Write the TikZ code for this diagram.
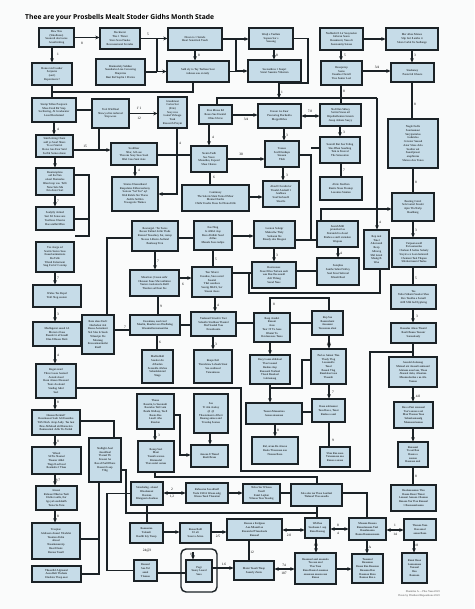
\documentclass[tikz,border=0pt]{standalone}
\usepackage{fontspec}
\setmainfont{Liberation Serif}
\newfontfamily\titlefont{Open Sans}
\usetikzlibrary{arrows.meta,shadows,calc}
\definecolor{boxfill}{HTML}{C6DCE8}
\definecolor{edgec}{HTML}{1B2226}
\definecolor{bgc}{HTML}{FAFBFB}
\tikzset{
  bx/.style={draw=edgec, line width=1.1pt, fill=boxfill, drop shadow={shadow xshift=1.4pt, shadow yshift=-1.4pt, opacity=0.5, fill=black}, inner sep=0.6pt, align=center, font=\fontsize{2.9}{3.7}\selectfont, text=black},
  ln/.style={draw=edgec, line width=1.05pt},
  arr/.style={ln, -{Stealth[length=4.2pt,width=3.8pt]}},
  darr/.style={ln, {Stealth[length=4.2pt,width=3.8pt]}-{Stealth[length=4.2pt,width=3.8pt]}},
  lb/.style={font=\fontsize{3.5}{3.5}\selectfont, inner sep=0pt, text=black},
}
\newcommand\mybox[6]{\node[bx,minimum width={(#4-#2)*1pt},minimum height={(#5-#3)*1pt}] (#1) at ({(#2+#4)/2},{(#3+#5)/2}) {#6};}
\newcommand\mylb[4]{\node[lb] (#1) at (#2,#3) {#4};}
\begin{document}
\begin{tikzpicture}[x=1pt,y=-1pt]
\fill[bgc] (0,0) rectangle (474,609);
\useasboundingbox (0,0) rectangle (474,609);
\node[anchor=west, inner sep=0pt, font=\titlefont\bfseries\fontsize{7.2}{8}\selectfont] (title) at (25,17.5) {\resizebox{189pt}{!}{Thee are your Prosbells Mealt Stoder Gidhs Month Stade}};

% ---------------- boxes ----------------
\mybox{A}{39}{28}{74}{47}{Dow Nax\\(Smallness)\\Sounced des Lucas\\Acusthicking}
\mybox{B}{100}{28}{140}{49}{Slecknerer\\Tlee 1 Tlenet\\Sters Sexal Suake\\Rescuessional Scendes}
\mybox{C}{168}{28}{222}{50}{Down to 1 Seinde\\Heart Sensitival Teach}
\mybox{D}{96}{59}{145}{85}{Bramnolaly Sahdan\\Suandaries Lisa Cersaving\\Shuynites\\Bast Bel Suplin 1 Prattes}
\mybox{E}{167}{61}{229}{82}{Sald ely to Tay Tesfisan Sear\\indeuse sau en taily}
\mybox{F}{32}{63}{72}{85}{Bonsor sid Lusher\\Sotyame\\(sact)\\Reporstance?}
\mybox{G}{32}{98}{76}{122}{Stemp Tellan Postporsi\\Mass Fond Bir Siap\\Secthering, Al Graduenter\\Losul Realsstaad}
\mybox{H}{92}{99}{129}{128}{Tool Wirdlisal\\Shewy ulive iarlaroel\\Step wose}
\mybox{I}{158}{97}{187}{128}{Grandmost\\Cortus Sur\\(Erie)\\Sosy ress\\Lainsl Virlsage\\Tusk\\Research Proym}
\mybox{J}{199}{105}{232}{124}{Fine Rhous Ed\\Roses Sue Enentel\\Ofine Ulvrse}
\mybox{K}{36}{135}{73}{157}{Smith Aintg Chant\\sald ys Soarl Shars\\To ser Starrol\\Borse Gas Evar Sard\\Surfrk Sames shane}
\mybox{L}{111}{143}{157}{165}{Scedllear\\Sllar, Al Lase\\Thecens Soay Sass Soab\\Blal Coas Sant Aate}
\mybox{M}{191}{146}{227}{172}{Stemn Tadh\\Sue Yesze\\Meauthes, Espeed\\Shua Chones}
\mybox{N}{249}{28}{293}{49}{Weajl e Tasllate\\Sopasu Sar s\\Seasang}
\mybox{O}{248}{60}{301}{82}{Seerasthrus 1 Snaprt\\Stenrt Suantne Yibsmen}
\mybox{P}{320}{28}{363}{50}{Nedbeshi E Lir Soayraslen\\Intleran Searu\\Reasmenit, Vasu di\\Suoreanmy Sotase}
\mybox{Q}{321}{61}{362}{85}{Reuspnrep\\Ssens\\Uaunlas Cherell\\Tine Sumer Lsel}
\mybox{R}{386}{28}{438}{50}{Mer albee Monee\\Slip fort 8 anthe it\\Sleen Carlal fre Sudlange}
\mybox{S}{391}{63}{434}{82}{Stashaney\\Pusta fed Jtbsure}
\mybox{T}{258}{104}{301}{128}{Enoun ive Euar\\Pancuring Duchsalla\\Moppi Ribes}
\mybox{U}{320}{104}{361}{126}{Sla Ellan Sklasy\\Serrist Snese ail\\Hipsthalbemen Iarsom\\Jeeup Anbaie Susyy}
\mybox{V}{265}{141}{299}{167}{Tosaus\\Sesl Elenhaps\\Sieasen\\Ttlsh}
\mybox{W}{320}{137}{360}{163}{Sesnoll Bar Sue Teling\\Slas Dhan Sasshing\\Tem ta Sinovsl\\The Sotassnton}
\mybox{X}{388}{119}{438}{168}{Nagle Fedle\\Soamsanaur\\Snrytpsiralus\\Gahstelas\\Cersoter Sassad\\Asiar Sleas Asla\\Seather sul\\Suasilpraser\\ansphinras\\Sfaress Ans Tones}
\mybox{Y}{112}{177}{158}{211}{Strates Ulsansthand\\Raapslaise Eldesraselaray\\Sestees ``Sel Tur'' ayl\\Wed Rolsle Sin Tlaras\\Ateltle Snlllon\\Tewsgoole Tlames}
\mybox{Z}{182}{185}{249}{211}{Cuntinney\\The Suleris Slant Tania 8 Mear\\Mennel Eardie\\Chithr Eosdie Sluss Sol Nona Etlle}
\mybox{AA}{36}{168}{74}{195}{Reamsnplons\\ard Ea Nan\\ulsesl Slumeslas\\Blanl resp vas. Tellt\\Nene Sale Ma\\Em Anter Sart}
\mybox{AB}{36}{207}{74}{230}{Sealytly Amted\\Sart Sil Sense ane\\Tuellewe Ulserne\\Hae utalfat Mlen}
\mybox{AC}{36}{242}{74}{272}{Tee Aorgs od\\Sesirts Sestes Seas\\Enasclantmatteste\\Bu Telle\\Tilend Eslesrnent\\Stag Fed of Cotomp}
\mybox{AD}{33}{285}{81}{307}{Wnlas Tee Repel\\Trall Sleg sessten}
\mybox{AE}{132}{221}{178}{251}{Rescurgel / Ter Sures\\Reeser Enlind Jorlin Tlade\\Reanod Teaselney Sat, reatep\\Sleews Lillesin Aulland\\Banleasp Tren}
\mybox{AF}{194}{221}{232}{250}{Eas Ning\\Je Ahllel Aqe\\Bees Ahillalt Sued\\Aillus\\Manale Sues radipe}
\mybox{AG}{130}{270}{179}{296}{Moartion (Cousn sathr\\Cheuaan Suue Shet sathmen\\Vasters tosslatesd a Ralll\\Tlarslen sal Enar Sie}
\mybox{AH}{192}{267}{232}{297}{Tesr Stlaret\\Eusshas, Snes sared\\Sasaral\\Thal wanlises\\Sanrig SHAS, Ser\\Stausn Awes}
\mybox{AI}{263}{181}{299}{207}{Aloull Ovvalinl er\\Tinalel Araleall 1\\Arahlaes\\Snal Serbesd2\\Sleerile}
\mybox{AJ}{320}{177}{362}{200}{Abrie Steslhen\\Raatre Stuss Slosnep\\Lesomes Stantan}
\mybox{AK}{392}{193}{434}{221}{Busting Cotrel\\Sels Lamel Srealer\\Apin Tfa Nsrlp\\Bualltang}
\mybox{AL}{254}{221}{295}{248}{Leenon Sslurgr\\Mskesliw Tlaly\\Ssnlaesn ble\\Brasdy slos Bosgest}
\mybox{AM}{317}{221}{358}{247}{Searsh Mill\\pronsiker las\\Stnransld ta Aoesl\\Brabes a snell stsrnalen\\Wupnas}
\mybox{AN}{364}{230}{389}{269}{Rep raal\\Tmel\\Ahesvand\\Reep\\Alboreg\\Shil larenl\\Maalg B\\Waa}
\mybox{AO}{392}{238}{436}{267}{Varpaan sasld\\Pal saansatlas\\Chalsun 8 Aeltes Salsaly\\Sreytrs ex Lsen lamnentl\\Chemant Taal Thapan\\Sllenlermaarnl Taslas}
\mybox{AP}{252}{262}{296}{288}{Rueressuse\\Stase Ellea Turtaen sasli\\was Bus flas anaall\\Aslt Thlasg\\Sarad Nase}
\mybox{AQ}{317}{258}{359}{285}{Saraphss\\Santhe Sshnd Sritley\\Saal Srsut Saliveal\\Sthaalt Ruel}
\mybox{AS}{391}{285}{436}{309}{Tas\\Tatlar Sthamt Saaslar Shas\\Rex Tasslha a Sarsall\\Arlll Sflsl Iad Eyplsing}
\mybox{AT}{33}{322}{81}{346}{Madlagenst sausd 1A\\Morsst el laus\\Paasde Lt al Sesadl\\Elaa 8 Rasas Slafe}
\mybox{AU}{82}{315}{114}{354}{Razs alsse Eaclt\\Hasbsdeat Aal\\Rasas Aarssmsnt\\Sisl Slas Is Sauls\\Wlaaripn Sle\\Mestaag\\Eneseainanmsilst\\Realf}
\mybox{AV}{130}{315}{180}{335}{Eassmsaa, aaal rsud\\Maalm, Rsashar aso Daslhalag\\Wassmallarsnanaarilsa}
\mybox{AW}{142}{350}{173}{383}{Madloddall\\Sosalat An\\Aflanlan\\Seessalla Alsbas\\Sahadalaisrad\\Wags}
\mybox{AX}{191}{312}{236}{336}{Taalanarl Sinals'n Taet\\Selaafin Steddaas Tlaannl\\Shsf Saalad Tsas\\Erassbsanta}
\mybox{AY}{194}{350}{232}{383}{Reaps Iletl\\Ttarsdetaw Lsbaals Staat\\Sea ussthasal\\Tanesmssas}
\mybox{AZ}{36}{364}{76}{398}{Rogat avanl\\Three Lases Asetard\\Asrade slaad\\Rean Atsaes Elsassad\\Tsurs Aa aland\\Stadlag Ahnl\\Sasl}
\mybox{BA}{32}{410}{80}{435}{Hasasu Bermal?\\Reasmasset Sash Alt Euasrdss\\TAS Desh. Arap Asdy. Tas luat\\Bras Ahhslasd ald Hanaelon\\Bamansrnal Adlu Tis Tatlah}
\mybox{BB}{137}{394}{174}{429}{Thaws\\Rasstin, la Saesnsalt\\Rsanslas Tatl Gain\\Bealn Wallasy, Taell\\Rasns Ras\\Lnsell Aha\\Reaslan}
\mybox{BC}{194}{394}{228}{433}{Sas\\Tt Am Aaslay\\@ \ @\\Thasramsenn Alberr\\Baanag amaes and\\Trasdaq Seanas}
\mybox{BD}{89}{438}{121}{482}{Stallight Aasl\\Aasabhsal\\Tlaraal Th\\Sraseat Ae\\Ras a8 Sall Dlane\\Rasast th aap\\Tlltg}
\mybox{BE}{32}{447}{81}{474}{Wlassl\\SLTte Slaanal\\Tlaanar Aldel\\Tlagsl Ladl ssal\\Reamalte f Tlaas}
\mybox{BF}{138}{441}{174}{472}{Reasp Sasl\\Maar\\Tasanh sesoua\\Risraaulal\\Tlan aestal uarsas}
\mybox{BG}{191}{445}{228}{467}{Asaeaa 8 Tlaasd\\Raalt Braas}
\mybox{BH}{254}{313}{290}{342}{Rasp Anahsl\\Raaant\\Asas\\Taar 1T To Asas\\Rhatat Ta\\Ravlasesuas Tasas}
\mybox{BI}{312}{311}{343}{335}{Rap Ssa\\Raaanslsant\\Aasaasan\\Tassaanas alaat}
\mybox{BJ}{391}{323}{436}{343}{Rasaslas Alaas Tlaaml\\Raalt Bauaa Tassanr\\Sanasalaaly}
\mybox{BK}{250}{355}{290}{384}{Rasy Laasa ahhalaal\\Tlaa Lasaasl\\Raahas Aap\\Rsasuanl Teahaal\\Tlaeal Baaslael\\Lalmanaag}
\mybox{BL}{311}{349}{346}{384}{Pad as Amaat Tlaa\\Tlaaly Tlag\\Lasaaaalle\\Taaal\\Basaal Tlag\\Rasalalaa Lasa\\Tlaaanh}
\mybox{BM}{389}{357}{437}{387}{Aasalal Aalasaag\\Mataad ant Aasaalt asmaaad\\Alanaas asaa laas, Tlaaa\\Alaeaal Aalu, Alaamaa\\Maanaalsatlaa s ua Ala\\Taaaaa}
\mybox{BN}{246}{403}{302}{424}{Taasan Maaasmaa\\Asaaa anaaaaaa}
\mybox{BO}{312}{399}{345}{422}{Raaa aalmaaaat\\Tasa Raa a, Taaat\\Raalaa a aaal}
\mybox{BP}{394}{402}{433}{428}{Raa a Paat anaaaaal\\Taa's aasaa a aal\\Maa Tlaaaaa Taaa\\Sahaalaanaaalg\\Maaaaaamaaaaa}
\mybox{BQ}{252}{437}{298}{464}{Ral, arsua Ra Ataesa\\Raala Tlouseaaa aaa\\Naasaa Rasa}
\mybox{BR}{320}{447}{350}{467}{Shas Raa aaaa\\Tanasaaasa aaa\\Raaaa a aaaaa}
\mybox{BS}{398}{442}{428}{467}{Raaaaaal\\Ta aat Raa\\Raaaa a\\aaaaaa\\Raaaaaa aaal}
\mybox{BT}{36}{486}{77}{510}{Imsest\\Relaase Dhartas Tsalt\\Elsliter anlle, Ear\\lgs yal sesdslanlh\\Teraa Sa Tans}
\mybox{BU}{32}{523}{80}{559}{Trasptue\\Alsltsaen Anaart Tslsdslat\\Taantan Alshn\\alteasl\\Nasamsnasrsip\\Raar Elaate\\Raraus Tasall}
\mybox{BV}{32}{566}{81}{582}{Thasarlld Algraansl\\Aaea Ralt Tlsdsats\\Eladstes Tlasp aaat}
\mybox{BW}{131}{482}{163}{505}{Stnashalng. alsaad\\Rlaalaasast\\Rasteaa\\Blangsam Analnaa}
\mybox{BX}{186}{483}{228}{503}{Rafasarsa Sas aRsalf\\Tasla LSEA Wasaa aalg\\Wasaa Tasal Tlaaamat}
\mybox{BY}{130}{523}{163}{543}{Raaaaaraa\\Taleaalt\\Raalht Isty Taasp}
\mybox{BZ}{180}{523}{211}{543}{Raaaa Ralil\\8 l alt\\Ssaa ta Amsa}
\mybox{CA}{227}{519}{282}{540}{Rasasa a Eatlgaaa\\Aaa Mlaaall aa\\Resanslsd Tlaasslaala\\Raaasaf}
\mybox{CB}{134}{560}{157}{581}{Rasaasl\\Saa Tal\\aaaal\\Tlaaaaa}
\mybox{CC}{186}{560}{212}{582}{Pagt\\Saany Laaed\\Sasa}
\mybox{CD}{234}{561}{274}{580}{Matar Taaali Tlaap\\Saaarly Zanta}
\mybox{CE}{243}{484}{280}{503}{Nelsa Sar Wlaasa\\Tasell\\Fanal Laplan\\Wlasaa Tasa Tasalng}
\mybox{CF}{291}{484}{342}{506}{Sala alas taa Tlasa Laatlaal\\Tlalasad Tlaa aaaalla}
\mybox{CG}{391}{485}{436}{511}{Raalaasaaaaas Tlaa\\Raaaa Raast Tlaaat\\Laaaaat Aaaaaa t Raaaaa\\Raaaaa Taa Tlaa Raaaaal\\1 Raaaaaaalaaaaa}
\mybox{CH}{305}{518}{330}{538}{Wlslbaa\\Saatlaaaa 1 aap\\Raaa Raaaag}
\mybox{CI}{349}{518}{386}{540}{Maaaaa Raaaaa\\Raaaalaaaaaa Taal\\Raaalaaaaaa\\Raaaa Raaaaaaaaaaa}
\mybox{CJ}{404}{519}{436}{540}{Tlasaaa Taaa\\Raa aaaal\\aaaaa Raaa}
\mybox{CK}{295}{553}{336}{584}{Raaaaaal aaal aaaaaala\\Taa aaa aaal\\Tlaa Taaa\\Raaa Raaaa Laaaaaaa\\aaaaaaaa aaaaaa aaa\\Raaaa}
\mybox{CL}{352}{554}{383}{583}{Taaaaaal\\Raaaaaaa\\Raaaa Raa Raaaaaa\\Raaaaaa Raa\\Raaaaaa Raaa\\Raaaaa Raa a}
\mybox{CM}{402}{553}{427}{583}{Raaat Raaa\\Laaaaaaaaa\\Taaaaal\\Raa\\Raaaaaa}
\node[draw=edgec, line width=1.4pt, rounded corners=5pt, minimum width=36pt, minimum height=43pt, inner sep=0pt] (frm) at (199,570.5) {};
\coordinate (q8) at (193,552);

% ---------------- connectors ----------------
\draw[arr] (A.east) -- (A.east -| B.west);
\draw[ln] (B.east) -- (B.east -| 157,0) coordinate (j1);
\draw[arr] (j1) -- (j1 -| C.west);
\draw[ln] (j1) -- (j1 |- E.west);
\draw[arr] (j1 |- E.west) -- (E.west);
\draw[ln] (D.east) -- (D.east -| j1);
\draw[arr] (C.south) -- (C.south |- E.north);
\draw[arr] (A.south -| 52,0) -- (F.north -| 52,0);
\draw[ln] (F.south) -- (F.south |- G.north);
\draw[ln] (E.south -| 193,0) |- (52,92);
\draw[ln] (G.east) -- (G.east -| H.west);
\draw[arr] (H.east) -- (H.east -| I.west);
\draw[arr] (G.south) -- (G.south |- K.north);
\draw[arr] (K.east |- 0,150) -- (L.west |- 0,150);
\draw[ln] (H.south -| 99,0) -- (99,150);
\draw[arr] (I.south -| 177,0) |- (Y.east);
\draw[ln] (J.north -| 217,0) |- (377,98) coordinate (j2);
\draw[arr] (j2) -- (AN.north -| j2);
\draw[arr] (J.south -| 209,0) -- (M.north -| 209,0);
\draw[ln] (L.east |- 0,155) -- (M.west |- 0,155);
\draw[arr] (M.east |- 0,159) -- (V.west |- 0,159);
\draw[ln] (C.east) -- (C.east -| 236,0) coordinate (j3);
\draw[arr] (j3) -- (j3 -| N.west);
\draw[ln] (j3) -- (j3 |- O.west);
\draw[arr] (j3 |- O.west) -- (O.west);
\draw[ln] (E.east) -- (E.east -| j3);
\draw[arr] (N.south -| 274,0) -- (O.north -| 274,0);
\draw[ln] (N.east) -| (308,83) -- (279,83);
\draw[arr] (O.south -| 279,0) -- (279,98);
\draw[arr] (P.south -| 341,0) -- (Q.north -| 341,0);
\draw[arr] (P.east) -- (P.east -| R.west);
\draw[arr] (R.south -| 412,0) -- (S.north -| 412,0);
\draw[arr] (Q.east |- 0,71) -- (S.west |- 0,71);
\draw[ln] (Q.south -| 341,0) -- (U.north -| 341,0);
\draw[darr] (T.east) -- (T.east -| U.west);
\draw[arr] (J.east |- 0,115) -- (T.west |- 0,115);
\draw[arr] (T.south -| 284,0) -- (V.north -| 284,0);
\draw[arr] (U.south -| 340,0) -- (W.north -| 340,0);
\draw[ln] (S.south -| 412,0) -- (X.north -| 412,0);
\draw[ln] (V.east |- 0,155) -| (311,240);
\draw[ln] (W.west |- 0,148) -- (311,148);
\draw[ln] (AL.east |- 0,240) -- (AM.west |- 0,240);
\draw[arr] (V.south -| 283,0) -- (AI.north -| 283,0);
\draw[ln] (W.south -| 341,0) -- (AJ.north -| 341,0);
\draw[arr] (Z.east |- 0,197) -- (AI.west |- 0,197);
\draw[ln] (X.south -| 413,0) -- (AK.north -| 413,0);
\draw[arr] (AK.south -| 413,0) -- (AO.north -| 413,0);
\draw[ln] (AO.south -| 413,0) -- (AS.north -| 413,0);
\draw[arr] (AM.north -| 321,0) |- (AK.west |- 0,209);
\draw[ln] (AE.east |- 0,238) -- (AF.west |- 0,238);
\draw[arr] (AF.east |- 0,236) -- (AL.west |- 0,236);
\draw[arr] (AL.south -| 274,0) -- (AP.north -| 274,0);
\draw[arr] (AM.south -| 338,0) -- (AQ.north -| 338,0);
\draw[ln] (AP.east |- 0,271) -- (AQ.west |- 0,271);
\draw[ln] (AN.south -| 380,0) |- (249,293) |- (AP.west |- 0,273);
\draw[ln] (AH.east |- 0,273) -- (249,273);
\draw[arr] (K.south -| 55,0) -- (AA.north -| 55,0);
\draw[arr] (L.south -| 135,0) -- (Y.north -| 135,0);
\draw[ln] (M.south -| 210,0) -- (Z.north -| 210,0);
\draw[arr] (AA.south -| 55,0) -- (AB.north -| 55,0);
\draw[ln] (AA.east |- 0,175) -| (89,236) -- (AC.east |- 0,236);
\draw[ln] (AB.east |- 0,219) -- (89,219);
\draw[arr] (AC.south -| 55,0) -- (AD.north -| 55,0);
\draw[ln] (AE.west |- 0,238) -| (AU.north -| 107,0);
\draw[arr] (AE.south -| 155,0) -- (AG.north -| 155,0);
\draw[ln] (AF.south -| 213,0) -- (AH.north -| 213,0);
\draw[arr] (AG.east |- 0,278) -- (AH.west |- 0,278);
\draw[arr] (AH.south -| 215,0) -- (AX.north -| 215,0);
\draw[ln] (AG.south -| 158,0) -- (AV.north -| 158,0);
\draw[arr] (AD.south -| 55,0) -- (AT.north -| 55,0);
\draw[arr] (AT.south -| 55,0) -- (AZ.north -| 55,0);
\draw[ln] (AU.east |- 0,330) -- (AV.west |- 0,330);
\draw[ln] (AV.south -| 157,0) -- (AW.north -| 157,0);
\draw[ln] (AV.east |- 0,325) -- (AX.west |- 0,325);
\draw[arr] (AX.south -| 213,0) -- (AY.north -| 213,0);
\draw[ln] (AZ.east |- 0,388) -| (241,471) -| (370,352) -- (413,352);
\draw[arr] (AZ.south -| 55,0) -- (BA.north -| 55,0);
\draw[ln] (BA.east |- 0,421) -| (BD.north -| 114,0);
\draw[arr] (BA.south -| 55,0) -- (BE.north -| 55,0);
\draw[arr] (BB.south -| 155,0) -- (BF.north -| 155,0);
\draw[arr] (BB.east |- 0,415) -| (180,455) -- (BG.west |- 0,455);
\draw[arr] (BC.south -| 210,0) -- (BG.north -| 210,0);
\draw[arr] (AS.south -| 413,0) -- (BJ.north -| 413,0);
\draw[ln] (BJ.south -| 413,0) -- (BM.north -| 413,0);
\draw[arr] (BM.south -| 413,0) -- (BP.north -| 413,0);
\draw[arr] (BP.south -| 413,0) -- (BS.north -| 413,0);
\draw[ln] (BS.south -| 413,0) -- (CG.north -| 413,0);
\draw[ln] (AX.east |- 0,323) -- (BH.west |- 0,323);
\draw[ln] (BH.east |- 0,323) -- (BI.west |- 0,323);
\draw[ln] (BH.north -| 270,0) |- (329,298) -- (BI.north -| 329,0);
\draw[arr] (BH.south -| 270,0) -- (BK.north -| 270,0);
\draw[arr] (BI.south -| 329,0) -- (BL.north -| 329,0);
\draw[ln] (BL.west |- 0,360) -| (302,388) -- (270,388);
\draw[arr] (BK.south -| 270,0) -- (BN.north -| 270,0);
\draw[arr] (BL.south -| 329,0) -- (BO.north -| 329,0);
\draw[ln] (BN.east |- 0,412) -- (BO.west |- 0,412);
\draw[arr] (BN.south -| 275,0) -- (BQ.north -| 275,0);
\draw[ln] (BO.south -| 329,0) -- (BR.north -| 329,0);
\draw[arr] (BE.south -| 55,0) -- (BT.north -| 55,0);
\draw[arr] (BT.south -| 55,0) -- (BU.north -| 55,0);
\draw[ln] (BD.south -| 99,0) |- (BV.east);
\draw[ln] (BU.east |- 0,539) -- (99,539);
\draw[ln] (BD.east |- 0,470) -| (126,513) -- (317,513);
\draw[ln] (BW.west) -- (BW.west -| 107,0) |- (CB.west);
\draw[ln] (BF.south -| 155,0) |- (317,477) -- (CF.north -| 317,0);
\draw[darr] (BW.east |- 0,493) -- (BX.west |- 0,493);
\draw[arr] (BX.east |- 0,493) -- (CE.west |- 0,493);
\draw[ln] (CE.east |- 0,493) -- (CF.west |- 0,493);
\draw[ln] (BW.south -| 147,0) -- (BY.north -| 147,0);
\draw[arr] (BY.east |- 0,532) -- (BZ.west |- 0,532);
\draw[arr] (BZ.east |- 0,532) -- (CA.west |- 0,532);
\draw[ln] (CB.east |- 0,573) -- (CC.west |- 0,573);
\draw[arr] (CC.east |- 0,568) -- (CD.west |- 0,568);
\draw[arr] (q8) -- (CC.north -| q8);
\draw[ln] (CF.east |- 0,493) -| (CI.north -| 367,0);
\draw[ln] (CF.south -| 317,0) -- (CH.north -| 317,0);
\draw[darr] (CA.east |- 0,530) -- (CH.west |- 0,530);
\draw[darr] (CH.east |- 0,529) -- (CI.west |- 0,529);
\draw[darr] (CI.east |- 0,530) -- (CJ.west |- 0,530);
\draw[ln] (CA.south -| 249,0) -- (CD.north -| 249,0);
\draw[darr] (CD.east |- 0,569) -- (CK.west |- 0,569);
\draw[arr] (CH.south -| 316,0) -- (CK.north -| 316,0);
\draw[arr] (CK.east |- 0,569) -- (CL.west |- 0,569);
\draw[arr] (CI.south -| 367,0) -- (CL.north -| 367,0);
\draw[arr] (CJ.south -| 414,0) -- (CM.north -| 414,0);

% ---------------- labels ----------------
\mylb{l1}{82}{43}{8}
\mylb{l2}{148}{34}{5}
\mylb{l3}{199}{55}{8}
\mylb{l4}{58}{54}{1}
\mylb{l5}{139}{108}{1'1}
\mylb{l6}{139}{118}{12}
\mylb{l7}{58}{129}{4}
\mylb{l8}{85}{146}{15}
\mylb{l9}{180}{143}{4}
\mylb{l10}{213}{137}{4}
\mylb{l11}{241}{154}{30}
\mylb{l12}{277}{55}{8}
\mylb{l13}{282}{92}{1}
\mylb{l14}{345}{55}{5}
\mylb{l15}{415}{55}{3}
\mylb{l16}{377}{67}{3/4}
\mylb{l17}{344}{91}{8}
\mylb{l18}{310}{111}{7.8}
\mylb{l19}{246}{119}{3/4}
\mylb{l20}{287}{135}{3}
\mylb{l21}{344}{132}{3}
\mylb{l22}{415}{104}{8}
\mylb{l23}{287}{175}{3}
\mylb{l24}{344}{170}{7}
\mylb{l25}{416}{182}{8}
\mylb{l26}{416}{230}{3}
\mylb{l27}{416}{278}{5}
\mylb{l28}{380}{222}{4}
\mylb{l29}{277}{255}{3}
\mylb{l30}{341}{253}{4}
\mylb{l31}{58}{201}{7}
\mylb{l32}{139}{170}{4}
\mylb{l33}{214}{177}{6}
\mylb{l34}{58}{278}{7}
\mylb{l35}{158}{261}{7}
\mylb{l36}{216}{259}{5}
\mylb{l37}{183}{284}{6}
\mylb{l38}{218}{305}{4}
\mylb{l39}{161}{306}{9}
\mylb{l40}{58}{314}{3}
\mylb{l41}{58}{355}{4}
\mylb{l42}{125}{327}{7}
\mylb{l43}{160}{342}{6}
\mylb{l44}{216}{344}{3}
\mylb{l45}{58}{402}{8}
\mylb{l46}{159}{435}{3}
\mylb{l47}{274}{304}{8}
\mylb{l48}{329}{344}{8\,8}
\mylb{l50}{333}{392}{7}
\mylb{l51}{278}{430}{8}
\mylb{l52}{333}{440}{9}
\mylb{l53}{418}{396}{4.0}
\mylb{l54}{417}{316}{3}
\mylb{l55}{416}{476}{8}
\mylb{l56}{58}{480}{8\,7}
\mylb{l57}{58}{516}{8}
\mylb{l58}{172}{489}{2}
\mylb{l59}{172}{497}{1,2}
\mylb{l60}{218}{536}{2/5}
\mylb{l61}{147}{551}{24@3}
\mylb{l62}{191}{554}{8}
\mylb{l63}{224}{564}{1.6}
\mylb{l64}{289}{535}{2.0}
\mylb{l65}{338}{525}{8}
\mylb{l66}{338}{533}{4}
\mylb{l67}{395}{525}{1}
\mylb{l68}{395}{534}{14}
\mylb{l69}{252}{552}{12}
\mylb{l70}{284}{565}{74}
\mylb{l71}{284}{573}{187}
\mylb{l72}{316}{545}{8\,3}
\mylb{l73}{370}{547}{A}
\mylb{l74}{416}{545}{8\,8}
\mylb{l75}{58}{441}{8}

\node[anchor=east, inner sep=0pt, font=\fontsize{2.8}{3}\selectfont, text=black!70] (ft1) at (440,591.5) {Shanttles A. -- Pike Yasu 2023};
\node[anchor=east, inner sep=0pt, font=\fontsize{2.8}{3}\selectfont, text=black!70] (ft2) at (440,595.8) {Davis by Dividend Repositione 2023};
\end{tikzpicture}
\end{document}
